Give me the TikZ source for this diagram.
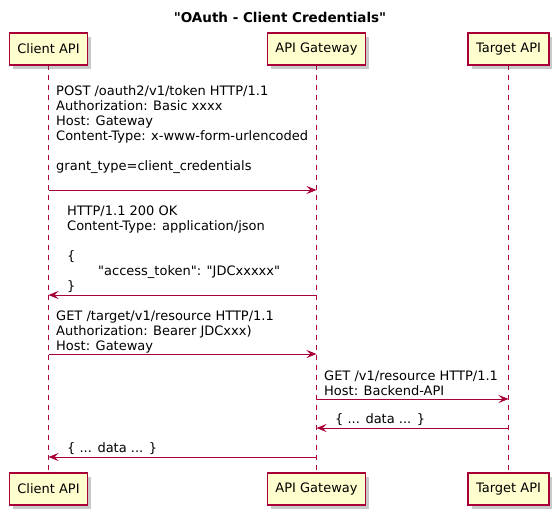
\documentclass[tikz,border=0pt]{standalone}
\usepackage{fontspec}
\setmainfont{DejaVu Sans}[Ligatures=TeXOff]
\usetikzlibrary{arrows.meta,shadows}
\definecolor{pumlred}{HTML}{A80036}
\definecolor{pumlfill}{HTML}{FEFECE}
\begin{document}
\begin{tikzpicture}[x=1pt,y=-1pt,
  participant/.style={draw=pumlred, fill=pumlfill, line width=1.1pt,
    font=\fontsize{13}{15}\selectfont, minimum height=32pt, inner xsep=8pt, inner ysep=0pt,
    drop shadow={shadow xshift=3.5pt, shadow yshift=-3.5pt, opacity=.35, fill=black!60}},
  lifeline/.style={draw=pumlred, line width=0.9pt, dash pattern=on 5pt off 5pt},
  msg/.style={draw=pumlred, line width=1pt, -{Stealth[length=10pt,width=8pt,inset=4pt]}},
  msgtext/.style={anchor=north west, inner sep=0pt, align=left,
    font=\fontsize{13}{15}\selectfont},
]
\useasboundingbox (0,0) rectangle (559,514);
\fill[white] (0,0) rectangle (559,514);

\node[anchor=base, font=\fontsize{13.5}{16}\selectfont\bfseries] (title) at (280,22) {"OAuth - Client Credentials"};

% lifelines first (behind boxes)
\coordinate (l1t) at (48.5,65); \coordinate (l1b) at (48.5,473);
\coordinate (l2t) at (316.5,65); \coordinate (l2b) at (316.5,473);
\coordinate (l3t) at (508.5,65); \coordinate (l3b) at (508.5,473);
\draw[lifeline] (l1t) -- (l1b);
\draw[lifeline] (l2t) -- (l2b);
\draw[lifeline] (l3t) -- (l3b);

\node[participant] (c1) at (48.5,49) {Client API};
\node[participant] (g1) at (316.5,49) {API Gateway};
\node[participant] (t1) at (508.5,49) {Target API};
\node[participant] (c2) at (48.5,489) {Client API};
\node[participant] (g2) at (316.5,489) {API Gateway};
\node[participant] (t2) at (508.5,489) {Target API};

% message 1 (first baseline 95)
\coordinate (m1a) at (48.5,190); \coordinate (m1b) at (316.5,190);
\draw[msg] (m1a) -- (m1b);
\node[msgtext] (t1m) at (56,84.5) {\strut POST /oauth2/v1/token HTTP/1.1\\Authorization: Basic xxxx\\Host: Gateway\\Content-Type: x-www-form-urlencoded\\[15pt]grant\_type=client\_credentials};

% message 2 (first baseline 215)
\coordinate (m2a) at (316.5,295); \coordinate (m2b) at (48.5,295);
\draw[msg] (m2a) -- (m2b);
\node[msgtext] (t2m) at (67,204.5) {\strut HTTP/1.1 200 OK\\Content-Type: application/json\\[15pt]\{\\\hspace*{31pt}"access\_token": "JDCxxxxx"\\\}};

% message 3 (first baseline 320)
\coordinate (m3a) at (48.5,354); \coordinate (m3b) at (316.5,354);
\draw[msg] (m3a) -- (m3b);
\node[msgtext] (t3m) at (56,309.5) {\strut GET /target/v1/resource HTTP/1.1\\Authorization: Bearer JDCxxx)\\Host: Gateway};

% message 4 (first baseline 380)
\coordinate (m4a) at (316.5,399); \coordinate (m4b) at (508.5,399);
\draw[msg] (m4a) -- (m4b);
\node[msgtext] (t4m) at (324,369.5) {\strut GET /v1/resource HTTP/1.1\\Host: Backend-API};

% message 5
\coordinate (m5a) at (508.5,428); \coordinate (m5b) at (316.5,428);
\draw[msg] (m5a) -- (m5b);
\node[msgtext] (t5m) at (335,412.5) {\strut\{ ... data ... \}};

% message 6
\coordinate (m6a) at (316.5,457); \coordinate (m6b) at (48.5,457);
\draw[msg] (m6a) -- (m6b);
\node[msgtext] (t6m) at (67,441.5) {\strut\{ ... data ... \}};
\end{tikzpicture}
\end{document}
